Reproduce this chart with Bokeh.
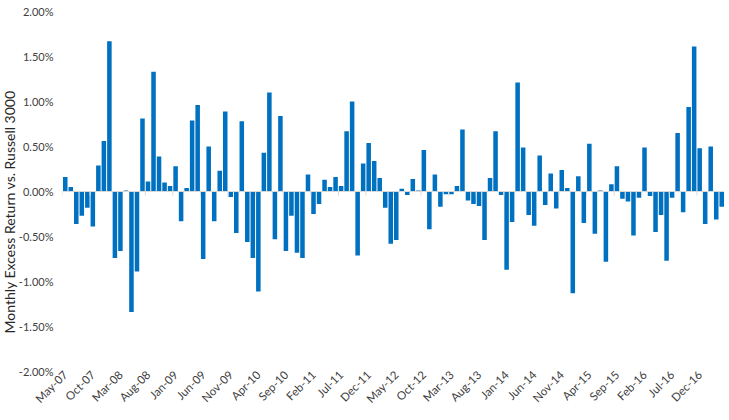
import math
import pandas as pd
from bokeh.plotting import figure
from bokeh.models import Range1d, FixedTicker, PrintfTickFormatter, Span, Title, ColumnDataSource
from bokeh.embed import file_html
from bokeh.resources import INLINE

# Monthly excess return vs. Russell 3000 (%), May-07 .. Apr-17
excess_return = [
    0.16, 0.05, -0.36, -0.27, -0.18, -0.39, 0.29, 0.56, 1.67, -0.74,
    -0.66, 0.01, -1.34, -0.89, 0.81, 0.11, 1.33, 0.39, 0.10, 0.06,
    0.28, -0.33, 0.04, 0.79, 0.96, -0.75, 0.50, -0.33, 0.23, 0.89,
    -0.06, -0.46, 0.78, -0.56, -0.74, -1.11, 0.43, 1.10, -0.53, 0.84,
    -0.66, -0.27, -0.68, -0.74, 0.19, -0.25, -0.14, 0.13, 0.05, 0.16,
    0.06, 0.67, 1.00, -0.71, 0.31, 0.54, 0.34, 0.15, -0.18, -0.58,
    -0.54, 0.03, -0.04, 0.14, 0.01, 0.46, -0.42, 0.19, -0.17, -0.03,
    -0.03, 0.06, 0.69, -0.10, -0.14, -0.16, -0.54, 0.15, 0.67, -0.04,
    -0.87, -0.34, 1.21, 0.49, -0.26, -0.38, 0.40, -0.15, 0.20, -0.19,
    0.24, 0.04, -1.13, 0.17, -0.35, 0.53, -0.47, 0.01, -0.78, 0.08,
    0.28, -0.08, -0.11, -0.49, -0.07, 0.49, -0.05, -0.45, -0.26, -0.77,
    -0.07, 0.65, -0.23, 0.94, 1.61, 0.48, -0.36, 0.50, -0.31, -0.17,
]
months = [d.strftime("%b-%y") for d in pd.date_range("2007-05-01", periods=len(excess_return), freq="MS")]

tick_labels = ["May-07", "Oct-07", "Mar-08", "Aug-08", "Jan-09", "Jun-09", "Nov-09", "Apr-10",
               "Sep-10", "Feb-11", "Jul-11", "Dec-11", "May-12", "Oct-12", "Mar-13", "Aug-13",
               "Jan-14", "Jun-14", "Nov-14", "Apr-15", "Sep-15", "Feb-16", "Jul-16", "Dec-16"]
y_ticks = [-2.0, -1.5, -1.0, -0.5, 0.0, 0.5, 1.0, 1.5, 2.0]
y_title = "Monthly Excess Return vs. Russell 3000"

n = len(excess_return)
idx = list(range(n))
tick_pos = [months.index(t) for t in tick_labels]

FONT = "Lato"
TXT = "#404040"

W, H = 724, 418
p = figure(width=W, height=H, output_backend="svg", toolbar_location=None,
           x_range=Range1d(-0.5, n - 0.5), y_range=Range1d(-2.0, 2.0),
           min_border_left=57, min_border_right=0, min_border_top=11, min_border_bottom=47)
p.outline_line_color = None
p.xgrid.grid_line_color = None
p.ygrid.grid_line_color = None
p.background_fill_color = "white"

src = ColumnDataSource(dict(x=idx, top=excess_return, month=months))
p.vbar(x="x", top="top", bottom=0, width=0.82, source=src, color="#0070C0", line_color=None)

# zero line with category tick marks every 5 months
p.add_layout(Span(location=0, dimension="width", line_color="#D9D9D9", line_width=1))
bounds = [t - 0.5 for t in tick_pos] + [n - 0.5]
p.segment(x0=bounds, x1=bounds, y0=[0] * len(bounds), y1=[-0.045] * len(bounds),
          line_color="#D9D9D9", line_width=1)

# y axis
ya = p.yaxis[0]
ya.ticker = FixedTicker(ticks=y_ticks)
ya.formatter = PrintfTickFormatter(format="%.2f%%")
ya.axis_line_color = None
ya.major_tick_line_color = None
ya.minor_tick_line_color = None
ya.major_tick_out = 0
ya.major_tick_in = 0
ya.major_label_standoff = 9
ya.major_label_text_font = FONT
ya.major_label_text_font_size = "11px"
ya.major_label_text_color = TXT

# x axis (labels at bottom)
xa = p.xaxis[0]
xa.ticker = FixedTicker(ticks=tick_pos)
xa.major_label_overrides = {pos: lab for pos, lab in zip(tick_pos, tick_labels)}
xa.major_label_orientation = math.pi / 4
xa.axis_line_color = None
xa.major_tick_line_color = None
xa.minor_tick_line_color = None
xa.major_tick_out = 0
xa.major_tick_in = 0
xa.major_label_standoff = 1
xa.major_label_text_font = FONT
xa.major_label_text_font_size = "11.5px"
xa.major_label_text_color = TXT

p.add_layout(Title(text=y_title, align="left", offset=38, standoff=-4,
                   text_font=FONT, text_font_size="14px", text_font_style="normal",
                   text_color="#262626"), "left")

open("out.html", "w").write(file_html(p, INLINE))
